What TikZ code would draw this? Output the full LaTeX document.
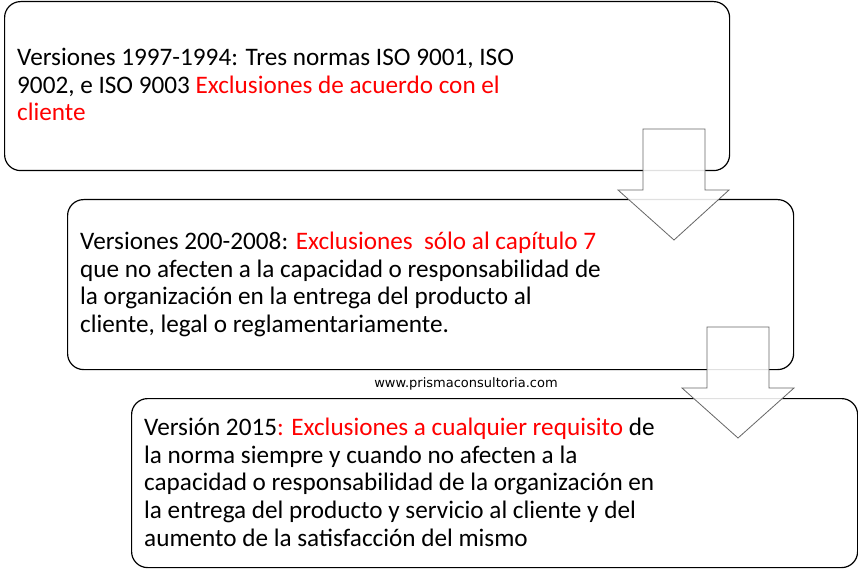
\documentclass[tikz,border=0pt]{standalone}
\usepackage{fontspec}
\setmainfont{Carlito}
\newfontfamily\webfont{DejaVu Sans}
\definecolor{rojo}{RGB}{255,0,0}
\tikzset{
	etapa/.style={draw=black,line width=1.2pt,rounded corners=16pt,fill=white,inner sep=0pt,anchor=north west},
	flecha/.style={draw=black!60,line width=0.8pt,fill=white,fill opacity=0.88},
	texto/.style={anchor=base west,inner sep=0pt,align=left,font=\fontsize{25.2}{27.6}\selectfont}
}

\begin{document}
\begin{tikzpicture}[x=1pt,y=-1pt]
			\useasboundingbox (0,0) rectangle (858,569);
			% cajas
			\node[etapa,minimum width=725pt,minimum height=169pt] (v1994) at (4,1) {};
			\node[etapa,minimum width=726pt,minimum height=170pt] (v2008) at (67,199) {};
			\draw[flecha] (643,129) -- (705,129) -- (705,190) -- (729,190) -- (674,240) -- (618,190) -- (643,190) -- cycle;
			\node[etapa,minimum width=726pt,minimum height=169pt] (v2015) at (131,398) {};
			\draw[flecha] (707,327) -- (769,327) -- (769,388) -- (794,388) -- (738,438) -- (682,388) -- (707,388) -- cycle;

			% textos (anclados en la linea base de la ultima linea)
			\node[texto] (t1994) at (17,121) {Versiones 1997-1994: Tres normas ISO 9001, ISO\\9002, e ISO 9003 \textcolor{rojo}{Exclusiones de acuerdo con el}\\\textcolor{rojo}{cliente}};
			\node[texto] (t2008) at (80,332.5) {Versiones 200-2008: \textcolor{rojo}{Exclusiones\ \ sólo al capítulo 7}\\que no afecten a la capacidad o responsabilidad de\\la organización en la entrega del producto al\\cliente, legal o reglamentariamente.};
			\node[texto] (t2015) at (144,546) {Versión 2015\textcolor{rojo}{: Exclusiones a cualquier requisito} de\\la norma siempre y cuando no afecten a la\\capacidad o responsabilidad de la organización en\\la entrega del producto y servicio al cliente y del\\aumento de la satisfacción del mismo};
			\node[font=\webfont\fontsize{13}{15}\selectfont] (web) at (466,384) {www.prismaconsultoria.com};
		\end{tikzpicture}
\end{document}
